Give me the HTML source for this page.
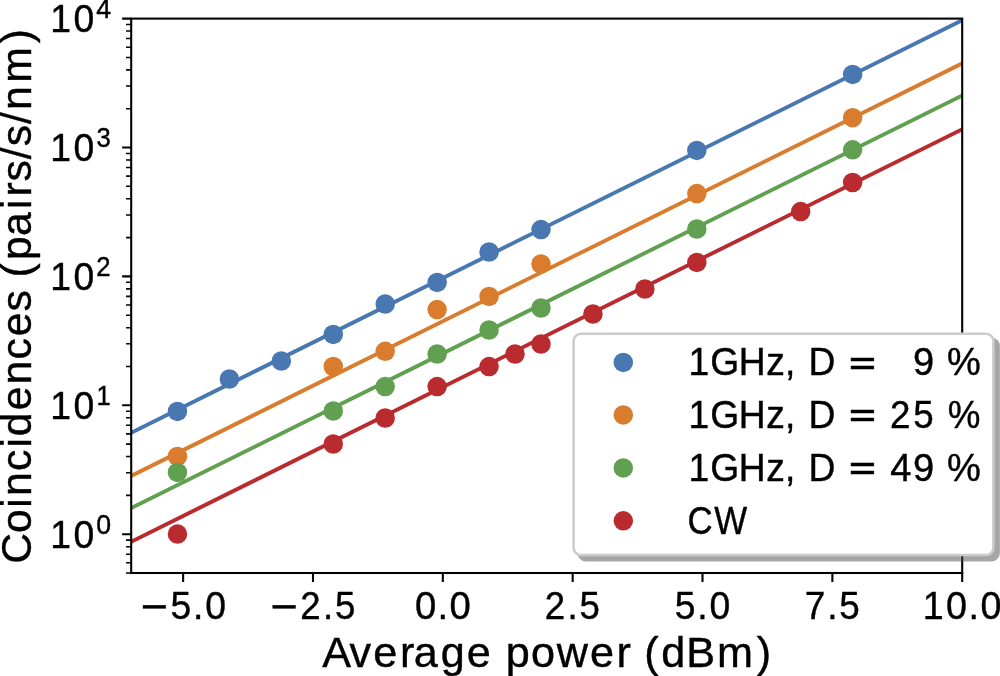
<!DOCTYPE html>
<html><head><meta charset="utf-8"><title>Coincidences vs average power</title><style>html,body{margin:0;padding:0;background:#fff;width:1000px;height:676px;overflow:hidden}text{font-family:"Liberation Sans",sans-serif;stroke:#000;stroke-width:0.4px}</style></head><body>
<svg width="1000" height="676" viewBox="0 0 1000 676" style="display:block;will-change:transform" font-family="Liberation Sans, sans-serif">
<rect width="1000" height="676" fill="#fff"/>
<defs><clipPath id="ax"><rect x="131.2" y="18.6" width="831.0" height="554.4"/></clipPath></defs>
<g clip-path="url(#ax)">
<line x1="131.2" y1="432.73231999999996" x2="962.2" y2="20.223919999999964" stroke="#4877b1" stroke-width="3.88" stroke-linecap="square"/>
<circle cx="177.44" cy="411.4" r="9.75" fill="#4877b1"/>
<circle cx="229.38" cy="379.0" r="9.75" fill="#4877b1"/>
<circle cx="281.32" cy="361.0" r="9.75" fill="#4877b1"/>
<circle cx="333.26" cy="334.4" r="9.75" fill="#4877b1"/>
<circle cx="385.19" cy="304.0" r="9.75" fill="#4877b1"/>
<circle cx="437.13" cy="282.4" r="9.75" fill="#4877b1"/>
<circle cx="489.07" cy="252.0" r="9.75" fill="#4877b1"/>
<circle cx="541.01" cy="229.6" r="9.75" fill="#4877b1"/>
<circle cx="696.82" cy="150.4" r="9.75" fill="#4877b1"/>
<circle cx="852.63" cy="74.4" r="9.75" fill="#4877b1"/>
<line x1="131.2" y1="475.93232" x2="962.2" y2="63.42392000000001" stroke="#d97c2d" stroke-width="3.88" stroke-linecap="square"/>
<circle cx="177.44" cy="456.4" r="9.75" fill="#d97c2d"/>
<circle cx="333.26" cy="366.5" r="9.75" fill="#d97c2d"/>
<circle cx="385.19" cy="351.3" r="9.75" fill="#d97c2d"/>
<circle cx="437.13" cy="309.6" r="9.75" fill="#d97c2d"/>
<circle cx="489.07" cy="296.4" r="9.75" fill="#d97c2d"/>
<circle cx="541.01" cy="264.0" r="9.75" fill="#d97c2d"/>
<circle cx="696.82" cy="193.6" r="9.75" fill="#d97c2d"/>
<circle cx="852.63" cy="117.7" r="9.75" fill="#d97c2d"/>
<line x1="131.2" y1="508.03231999999997" x2="962.2" y2="95.52391999999998" stroke="#60a050" stroke-width="3.88" stroke-linecap="square"/>
<circle cx="177.44" cy="472.4" r="9.75" fill="#60a050"/>
<circle cx="333.26" cy="411.0" r="9.75" fill="#60a050"/>
<circle cx="385.19" cy="386.6" r="9.75" fill="#60a050"/>
<circle cx="437.13" cy="354.0" r="9.75" fill="#60a050"/>
<circle cx="489.07" cy="330.0" r="9.75" fill="#60a050"/>
<circle cx="541.01" cy="308.0" r="9.75" fill="#60a050"/>
<circle cx="696.82" cy="229.0" r="9.75" fill="#60a050"/>
<circle cx="852.63" cy="149.8" r="9.75" fill="#60a050"/>
<line x1="131.2" y1="541.73232" x2="962.2" y2="129.22391999999996" stroke="#b92b2e" stroke-width="3.88" stroke-linecap="square"/>
<circle cx="177.44" cy="534.1" r="9.75" fill="#b92b2e"/>
<circle cx="333.26" cy="444.0" r="9.75" fill="#b92b2e"/>
<circle cx="385.19" cy="418.0" r="9.75" fill="#b92b2e"/>
<circle cx="437.13" cy="386.6" r="9.75" fill="#b92b2e"/>
<circle cx="489.07" cy="366.6" r="9.75" fill="#b92b2e"/>
<circle cx="515.04" cy="354.0" r="9.75" fill="#b92b2e"/>
<circle cx="541.01" cy="344.0" r="9.75" fill="#b92b2e"/>
<circle cx="592.94" cy="314.0" r="9.75" fill="#b92b2e"/>
<circle cx="644.88" cy="289.0" r="9.75" fill="#b92b2e"/>
<circle cx="696.82" cy="262.4" r="9.75" fill="#b92b2e"/>
<circle cx="800.69" cy="211.6" r="9.75" fill="#b92b2e"/>
<circle cx="852.63" cy="182.5" r="9.75" fill="#b92b2e"/>
</g>
<rect x="131.2" y="18.6" width="831.0" height="554.4" fill="none" stroke="#000" stroke-width="2.07" stroke-linejoin="miter" stroke-linecap="square"/>
<path d="M183.14 573.00v9.05M312.98 573.00v9.05M442.82 573.00v9.05M572.67 573.00v9.05M702.51 573.00v9.05M832.36 573.00v9.05M962.20 573.00v9.05" stroke="#000" stroke-width="2.07"/>
<path d="M131.20 534.20h-9.05M131.20 405.30h-9.05M131.20 276.40h-9.05M131.20 147.50h-9.05M131.20 18.60h-9.05" stroke="#000" stroke-width="2.07"/>
<path d="M131.20 573.00h-5.17M131.20 562.79h-5.17M131.20 554.16h-5.17M131.20 546.69h-5.17M131.20 540.10h-5.17M131.20 495.39h-5.17M131.20 472.70h-5.17M131.20 456.59h-5.17M131.20 444.10h-5.17M131.20 433.89h-5.17M131.20 425.26h-5.17M131.20 417.79h-5.17M131.20 411.20h-5.17M131.20 366.50h-5.17M131.20 343.80h-5.17M131.20 327.69h-5.17M131.20 315.20h-5.17M131.20 304.99h-5.17M131.20 296.37h-5.17M131.20 288.89h-5.17M131.20 282.30h-5.17M131.20 237.60h-5.17M131.20 214.90h-5.17M131.20 198.79h-5.17M131.20 186.30h-5.17M131.20 176.10h-5.17M131.20 167.47h-5.17M131.20 159.99h-5.17M131.20 153.40h-5.17M131.20 108.70h-5.17M131.20 86.00h-5.17M131.20 69.89h-5.17M131.20 57.40h-5.17M131.20 47.20h-5.17M131.20 38.57h-5.17M131.20 31.09h-5.17M131.20 24.50h-5.17" stroke="#000" stroke-width="1.55"/>
<text transform="translate(140.72 621.27) scale(1.1065 1)" font-size="42.16" fill="#000">−</text><text x="175.44 198.69 211.13" y="618.60" font-size="38.36" fill="#000" transform="scale(0.9719 1)">5.0</text>
<text transform="translate(270.56 621.27) scale(1.1065 1)" font-size="42.16" fill="#000">−</text><text x="314.20 338.10 350.70" y="618.60" font-size="38.36" fill="#000" transform="scale(0.9554 1)">2.5</text>
<text x="416.06 438.71 450.69" y="618.60" font-size="38.36" fill="#000" transform="scale(0.9972 1)">0.0</text>
<text x="570.12 594.02 606.62" y="618.60" font-size="38.36" fill="#000" transform="scale(0.9554 1)">2.5</text>
<text x="694.22 717.46 729.90" y="618.60" font-size="38.36" fill="#000" transform="scale(0.9719 1)">5.0</text>
<text x="836.74 860.10 872.59" y="618.60" font-size="38.36" fill="#000" transform="scale(0.9618 1)">7.5</text>
<text x="938.16 961.77 984.66 996.89" y="618.60" font-size="38.36" fill="#000" transform="scale(0.9835 1)">10.0</text>
<text x="51.70 75.55" y="547.75" font-size="38.36" fill="#000" transform="scale(0.9737 1)">10</text>
<text x="96.73" y="533.95" font-size="26.85" fill="#000" transform="scale(0.9949 1)">0</text>
<text x="51.70 75.55" y="418.85" font-size="38.36" fill="#000" transform="scale(0.9737 1)">10</text>
<text x="101.50" y="405.05" font-size="26.85" fill="#000" transform="scale(0.9502 1)">1</text>
<text x="51.70 75.55" y="289.95" font-size="38.36" fill="#000" transform="scale(0.9737 1)">10</text>
<text x="100.28" y="276.15" font-size="26.85" fill="#000" transform="scale(0.9589 1)">2</text>
<text x="51.70 75.55" y="161.05" font-size="38.36" fill="#000" transform="scale(0.9737 1)">10</text>
<text x="101.06" y="147.25" font-size="26.85" fill="#000" transform="scale(0.9554 1)">3</text>
<text x="51.70 75.55" y="32.15" font-size="38.36" fill="#000" transform="scale(0.9737 1)">10</text>
<text x="96.71" y="18.35" font-size="26.85" fill="#000" transform="scale(0.9950 1)">4</text>
<text x="317.31 344.32 367.64 393.86 407.53 434.06 459.69 484.41 498.03 523.01 548.39 581.02 607.24 622.39 634.47 651.30 675.85 706.10 745.31" y="667.30" font-size="42.54" fill="#000" transform="scale(1.0153 1)">Average power (dBm)</text>
<g transform="translate(31.2 295.80) rotate(-90)"><text x="-267.33 -236.70 -211.35 -199.69 -174.81 -151.43 -140.09 -114.13 -88.52 -63.63 -40.38 -15.68 5.95 18.22 35.82 59.60 86.52 99.07 114.11 136.14 149.29 171.31 185.38 212.48 252.05" y="0.00" font-size="42.54" fill="#000" transform="scale(1.0024 1)">Coincidences (pairs/s/nm)</text></g>
<rect x="577.48" y="337.58" width="422.39" height="223.89" rx="8.53" fill="#4d4d4d" fill-opacity="0.5"/>
<rect x="573.6" y="333.7" width="419.80" height="221.30" rx="7.24" fill="#fff" stroke="#ccc" stroke-width="2.59"/>
<circle cx="623.3" cy="362.4" r="9.75" fill="#4877b1"/>
<text x="709.27 731.52 761.06 789.32 808.73 820.97 832.80 861.54" y="375.10" font-size="38.36" fill="#000" transform="scale(0.9708 1)" style="white-space:pre">1GHz, D </text><text transform="translate(849.28 372.63) scale(1.6847 1)" font-size="26.83" font-weight="bold" fill="#000">=</text><text x="886.81 898.44 910.06 922.04 944.94 956.40" y="375.10" font-size="38.36" fill="#000" transform="scale(0.9902 1)" style="white-space:pre">   9 %</text>
<circle cx="623.3" cy="414.9" r="9.75" fill="#d97c2d"/>
<text x="709.27 731.52 761.06 789.32 808.73 820.97 832.80 861.54" y="427.60" font-size="38.36" fill="#000" transform="scale(0.9708 1)" style="white-space:pre">1GHz, D </text><text transform="translate(849.28 425.13) scale(1.6847 1)" font-size="26.83" font-weight="bold" fill="#000">=</text><text x="916.56 928.73 953.12 976.64 988.87" y="427.60" font-size="38.36" fill="#000" transform="scale(0.9583 1)" style="white-space:pre"> 25 %</text>
<circle cx="623.3" cy="467.9" r="9.75" fill="#60a050"/>
<text x="709.27 731.52 761.06 789.32 808.73 820.97 832.80 861.54" y="480.90" font-size="38.36" fill="#000" transform="scale(0.9708 1)" style="white-space:pre">1GHz, D </text><text transform="translate(849.28 478.43) scale(1.6847 1)" font-size="26.83" font-weight="bold" fill="#000">=</text><text x="885.60 897.67 920.79 943.67 955.09" y="480.90" font-size="38.36" fill="#000" transform="scale(0.9916 1)" style="white-space:pre"> 49 %</text>
<circle cx="623.3" cy="520.8" r="9.75" fill="#b92b2e"/>
<text x="756.69 786.25" y="533.80" font-size="38.36" fill="#000" transform="scale(0.9085 1)">CW</text>
</svg>
</body></html>
